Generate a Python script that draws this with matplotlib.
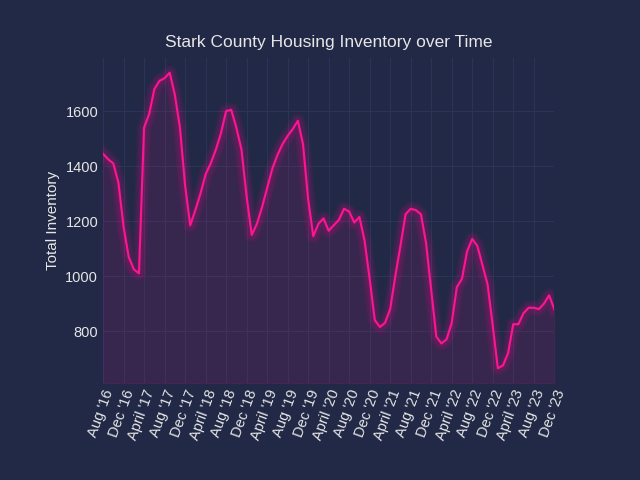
import numpy as np
import pandas as pd
import matplotlib
matplotlib.use("Agg")
import matplotlib.pyplot as plt

plt.rcParams["font.family"] = "Liberation Sans"

inventory = [
    1445, 1425, 1410, 1340, 1180, 1070, 1025, 1010,          # Aug16-Mar17
    1540, 1590, 1680, 1710, 1720, 1740, 1660, 1540,          # Apr17-Nov17
    1330, 1185, 1240, 1300, 1370, 1410, 1460, 1520,          # Dec17-Jul18
    1600, 1605, 1540, 1460, 1290, 1150, 1190, 1250,          # Aug18-Mar19
    1320, 1390, 1440, 1480, 1510, 1535, 1565, 1480,          # Apr19-Nov19
    1280, 1145, 1190, 1210, 1165, 1185, 1205, 1245,          # Dec19-Jul20
    1235, 1195, 1215, 1130, 990, 840, 815, 830,              # Aug20-Mar21
    880, 1000, 1110, 1225, 1245, 1240, 1225, 1120,           # Apr21-Nov21
    950, 780, 755, 770, 830, 960, 990, 1090,                 # Dec21-Jul22
    1135, 1110, 1040, 970, 820, 665, 675, 720,               # Aug22-Mar23
    825, 825, 865, 885, 885, 880, 900, 930, 880,             # Apr23-Dec23
]

months = pd.date_range("2016-08-01", periods=len(inventory), freq="MS")
tick_dates = months[::4]
tick_labels = [d.strftime("%b '%y").replace("Apr ", "April ") for d in tick_dates]

bg = "#212946"
pink = "#FF1493"

fig, ax = plt.subplots(figsize=(6.4, 4.8), dpi=100)
fig.patch.set_facecolor(bg)
ax.set_facecolor(bg)

x = np.arange(len(inventory))
ax.plot(x, inventory, color=pink, lw=1.5, zorder=5)
for i in range(1, 10):
    ax.plot(x, inventory, color=pink, lw=1.5 + 1.1 * i, alpha=0.03, zorder=4)
ymin = 611
ax.fill_between(x, inventory, ymin, color=pink, alpha=0.1)

ax.set_ylim(ymin, 1793)
ax.set_xlim(0, len(x) - 1)
ax.set_xticks(x[::4])
ax.set_xticklabels(tick_labels, rotation=70, ha="right", rotation_mode="anchor")
ax.set_yticks([800, 1000, 1200, 1400, 1600])
ax.grid(color="#2A3459", lw=0.8)
ax.set_axisbelow(True)
for s in ax.spines.values():
    s.set_visible(False)
ax.tick_params(colors="0.9", length=0, labelsize=10.5)
ax.set_ylabel("Total Inventory", color="0.9", fontsize=11)
ax.set_title("Stark County Housing Inventory over Time", color="0.9", fontsize=12.5, pad=8)
fig.subplots_adjust(left=0.161, right=0.866, top=0.879, bottom=0.202)
fig.savefig("out.png", facecolor=bg)
